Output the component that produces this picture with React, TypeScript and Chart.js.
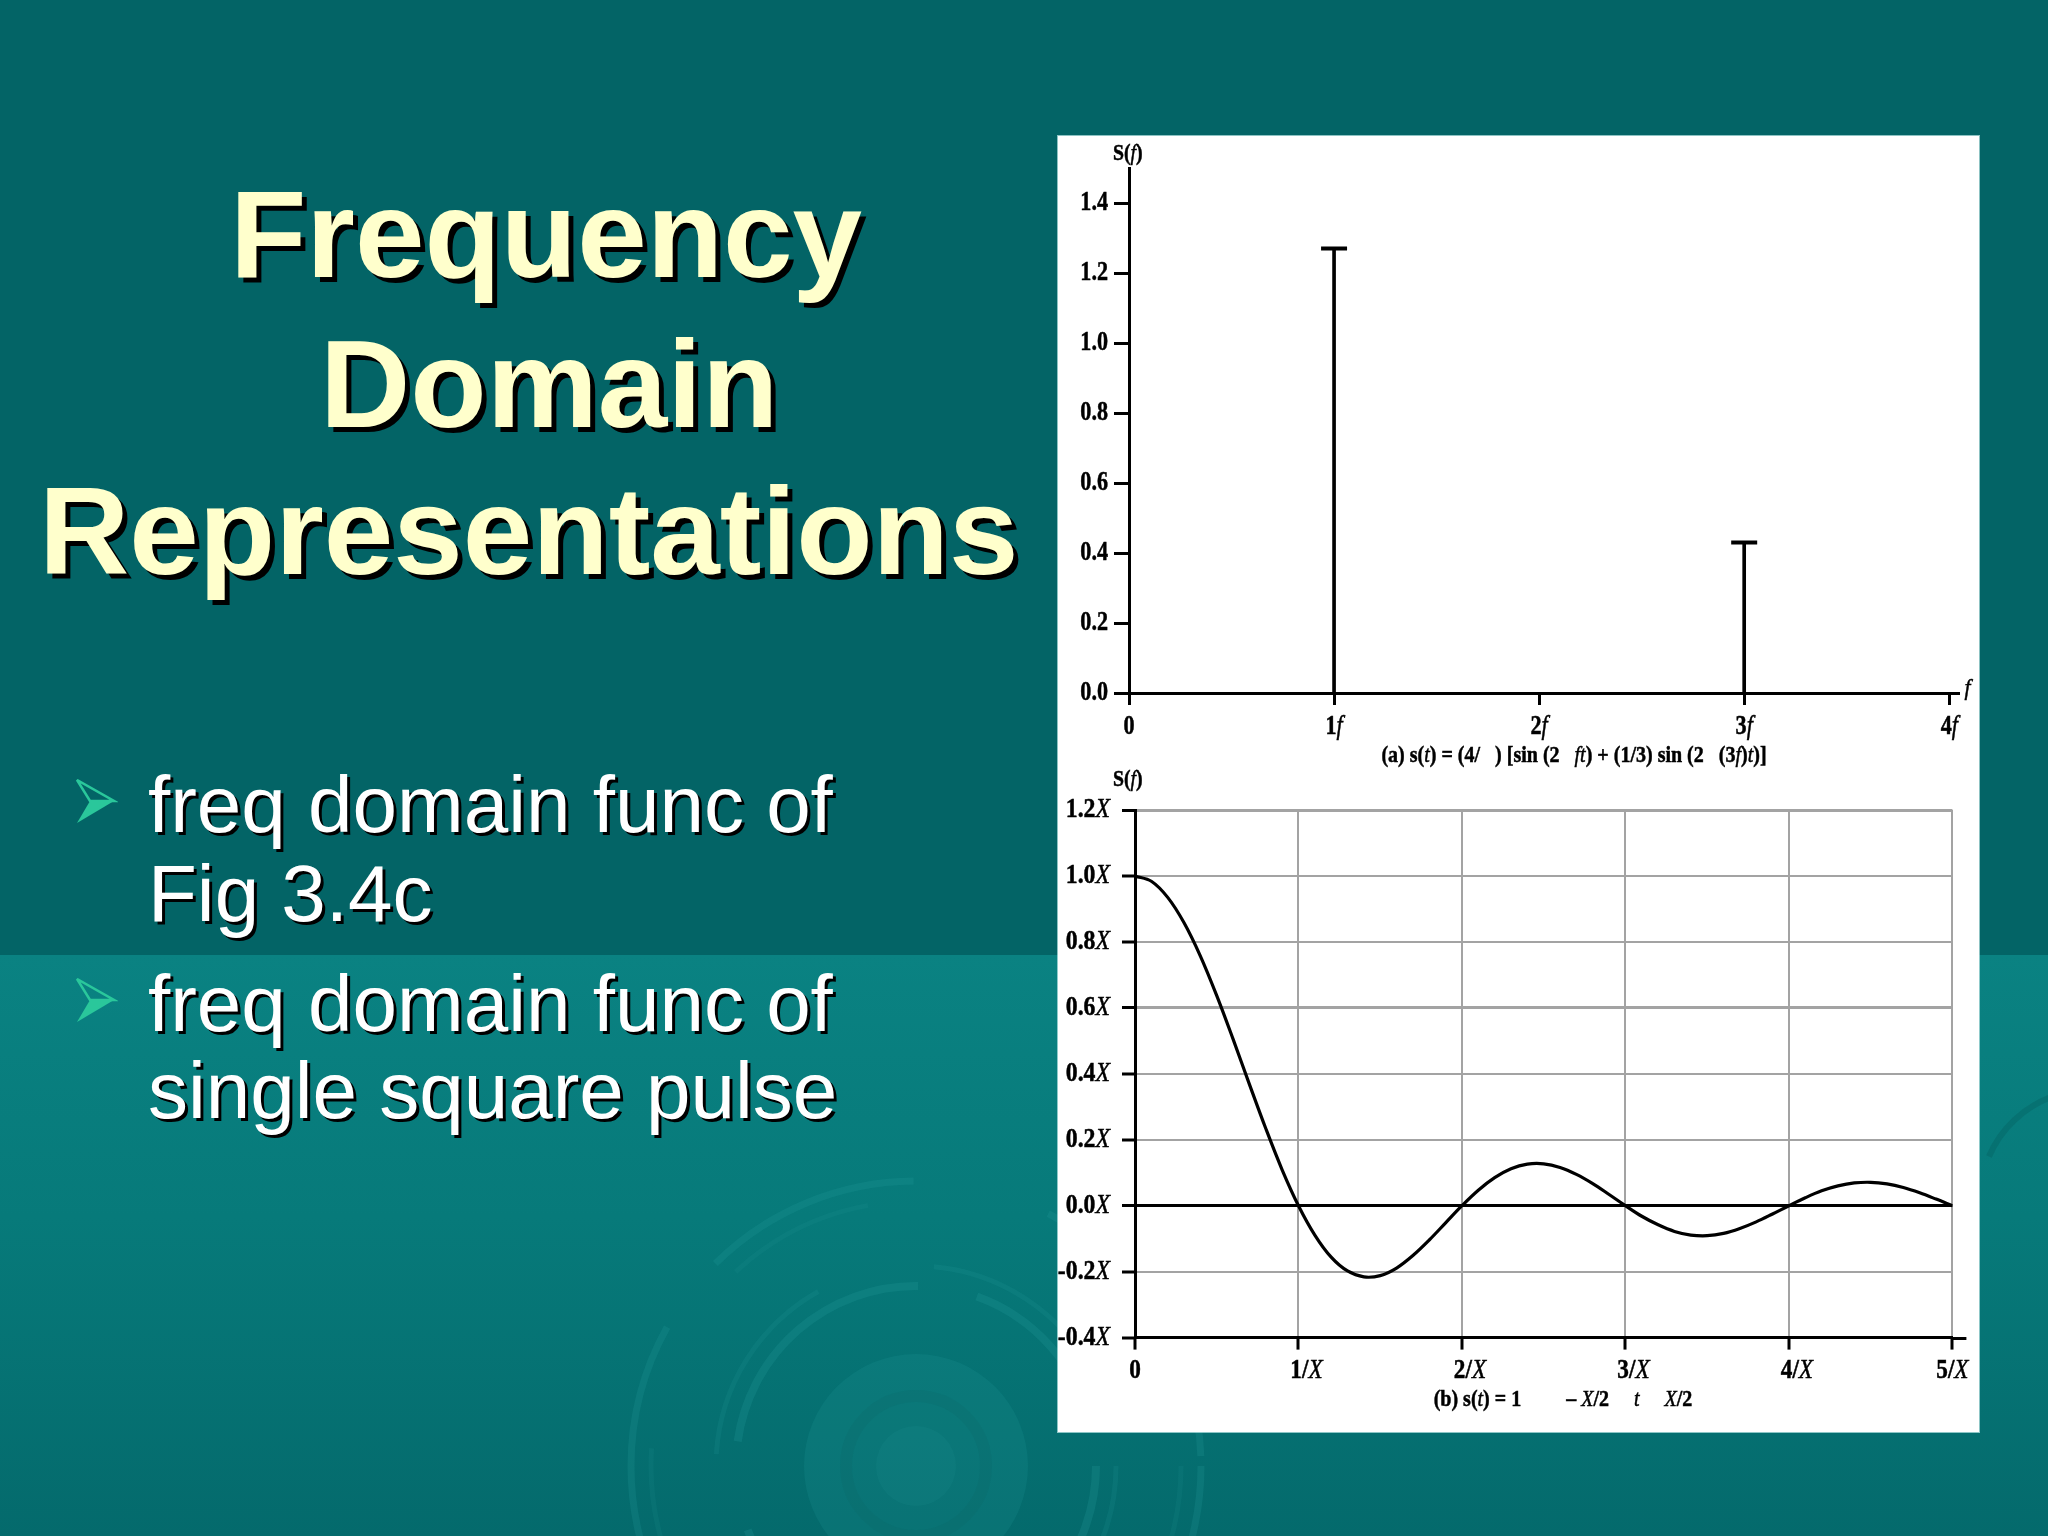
import React, { useEffect, useRef } from "react";
import { Chart, registerables } from "chart.js";
Chart.register(...registerables);

// ---------- Data: (a) line spectrum ----------
const spectrumFreqs = [1, 3];
const spectrumAmps = [1.27, 0.43];
const topXTicks = [0, 1, 2, 3, 4];
const topXTickLabels = ["0", "1{f}", "2{f}", "3{f}", "4{f}"];
const topYTicks = [0, 0.2, 0.4, 0.6, 0.8, 1.0, 1.2, 1.4];
const topYTickLabels = ["0.0", "0.2", "0.4", "0.6", "0.8", "1.0", "1.2", "1.4"];
const topCaption = "(a) s({t}) = (4/   ) [sin (2   {f}{t}) + (1/3) sin (2   (3{f}){t})]";

// ---------- Data: (b) single square pulse spectrum ----------
const pulseF = [
  0, 0.1, 0.2, 0.3, 0.4, 0.5, 0.6, 0.7, 0.8, 0.9,
  1.0, 1.1, 1.2, 1.3, 1.4, 1.5, 1.6, 1.7, 1.8, 1.9,
  2.0, 2.1, 2.2, 2.3, 2.4, 2.5, 2.6, 2.7, 2.8, 2.9,
  3.0, 3.1, 3.2, 3.3, 3.4, 3.5, 3.6, 3.7, 3.8, 3.9,
  4.0, 4.1, 4.2, 4.3, 4.4, 4.5, 4.6, 4.7, 4.8, 4.9, 5.0,
];
const pulseS = [
  1.0, 0.984, 0.935, 0.858, 0.757, 0.637, 0.505, 0.368, 0.234, 0.109,
  0.0, -0.089, -0.156, -0.198, -0.216, -0.212, -0.189, -0.151, -0.104, -0.052,
  0.0, 0.047, 0.085, 0.112, 0.126, 0.127, 0.116, 0.095, 0.067, 0.034,
  0.0, -0.032, -0.058, -0.078, -0.089, -0.091, -0.084, -0.069, -0.049, -0.025,
  0.0, 0.024, 0.045, 0.06, 0.069, 0.071, 0.066, 0.055, 0.039, 0.02, 0.0,
];
const bottomXTicks = [0, 1, 2, 3, 4, 5];
const bottomXTickLabels = ["0", "1/{X}", "2/{X}", "3/{X}", "4/{X}", "5/{X}"];
const bottomYTicks = [-0.4, -0.2, 0, 0.2, 0.4, 0.6, 0.8, 1.0, 1.2];
const bottomYTickLabels = ["-0.4{X}", "-0.2{X}", "0.0{X}", "0.2{X}", "0.4{X}", "0.6{X}", "0.8{X}", "1.0{X}", "1.2{X}"];
const bottomCaption = "(b) s({t}) = 1         \u2013 {X}/2     {t}     {X}/2";

// ---------- Slide text ----------
const titleLines = ["Frequency", "Domain", "Representations"];
const bulletLines = [
  ["freq domain func of", "Fig 3.4c"],
  ["freq domain func of", "single square pulse"],
];

type Seg = { t: string; i: boolean };
function parseRich(s: string): Seg[] {
  const out: Seg[] = [];
  const re = /\{([^}]*)\}/g;
  let last = 0;
  let m: RegExpExecArray | null;
  while ((m = re.exec(s))) {
    if (m.index > last) out.push({ t: s.slice(last, m.index), i: false });
    out.push({ t: m[1], i: true });
    last = re.lastIndex;
  }
  if (last < s.length) out.push({ t: s.slice(last), i: false });
  return out;
}

function drawRich(
  ctx: CanvasRenderingContext2D,
  s: string,
  x: number,
  y: number,
  align: "left" | "center" | "right",
  size: number,
  condense: number,
  bold = true
) {
  const segs = parseRich(s);
  const fontN = `${bold ? "bold " : ""}${size}px "Liberation Serif", "Times New Roman", serif`;
  const fontI = `italic ${size}px "Liberation Serif", "Times New Roman", serif`;
  let w = 0;
  const widths = segs.map((sg) => {
    ctx.font = sg.i ? fontI : fontN;
    const ww = ctx.measureText(sg.t).width;
    w += ww;
    return ww;
  });
  const total = w * condense;
  const sx = align === "left" ? x : align === "right" ? x - total : x - total / 2;
  ctx.save();
  ctx.translate(sx, y);
  ctx.scale(condense, 1);
  ctx.fillStyle = "#000";
  ctx.strokeStyle = "#000";
  ctx.lineWidth = 0.5;
  ctx.textBaseline = "middle";
  ctx.textAlign = "left";
  let cx = 0;
  segs.forEach((sg, k) => {
    ctx.font = sg.i ? fontI : fontN;
    ctx.fillText(sg.t, cx, 0);
    ctx.strokeText(sg.t, cx, 0);
    cx += widths[k];
  });
  ctx.restore();
}

function makeTopConfig(): any {
  const pts = spectrumFreqs.map((f, i) => ({ x: f, y: spectrumAmps[i] }));
  const textPlugin = {
    id: "topText",
    afterDraw(chart: any) {
      const ctx = chart.ctx as CanvasRenderingContext2D;
      const xs = chart.scales.x;
      const ys = chart.scales.y;
      const a = chart.chartArea;
      topYTicks.forEach((v, i) => {
        drawRich(ctx, topYTickLabels[i], a.left - 21, ys.getPixelForValue(v), "right", 27, 0.82);
      });
      topXTicks.forEach((v, i) => {
        drawRich(ctx, topXTickLabels[i], xs.getPixelForValue(v), a.bottom + 34, "center", 27, 0.82);
      });
      drawRich(ctx, topCaption, 516, 620, "center", 23, 0.87);
      drawRich(ctx, "S({f})", 55, 18, "left", 23, 0.86);
      drawRich(ctx, "{f}", a.right + 5, a.bottom - 4, "left", 24, 0.9);
    },
  };
  return {
    type: "bar",
    data: {
      datasets: [
        {
          type: "bar",
          data: pts,
          backgroundColor: "#000",
          borderWidth: 0,
          barThickness: 3,
        },
        {
          type: "scatter",
          data: pts,
          pointStyle: "line",
          pointRadius: 13,
          pointHoverRadius: 13,
          borderColor: "#000",
          backgroundColor: "#000",
          borderWidth: 4,
        },
      ],
    },
    options: {
      animation: false,
      responsive: false,
      events: [],
      layout: { padding: { top: 32, right: 19.5, left: 0, bottom: 0 } },
      plugins: { legend: { display: false }, tooltip: { enabled: false } },
      scales: {
        x: {
          type: "linear",
          offset: false,
          min: 0,
          max: 4.05,
          afterBuildTicks: (s: any) => {
            s.ticks = topXTicks.map((v) => ({ value: v }));
          },
          afterFit: (s: any) => {
            s.height = 83;
          },
          grid: {
            offset: false,
            drawOnChartArea: false,
            drawTicks: true,
            tickLength: 12,
            tickWidth: 3,
            tickColor: "#000",
          },
          border: { display: true, color: "#000", width: 3 },
          ticks: { display: false },
        },
        y: {
          type: "linear",
          min: 0,
          max: 1.5,
          afterBuildTicks: (s: any) => {
            s.ticks = topYTicks.map((v) => ({ value: v }));
          },
          afterFit: (s: any) => {
            s.width = 71;
          },
          grid: { drawOnChartArea: false, drawTicks: true, tickLength: 15, tickWidth: 3, tickColor: "#000" },
          border: { display: true, color: "#000", width: 3 },
          ticks: { display: false },
        },
      },
    },
    plugins: [textPlugin],
  };
}

function makeBottomConfig(): any {
  const pts = pulseF.map((f, i) => ({ x: f, y: pulseS[i] }));
  const textPlugin = {
    id: "bottomText",
    afterDraw(chart: any) {
      const ctx = chart.ctx as CanvasRenderingContext2D;
      const xs = chart.scales.x;
      const ys = chart.scales.y;
      const a = chart.chartArea;
      // extend the bottom axis line a little past the last tick, as in the figure
      ctx.save();
      ctx.strokeStyle = "#000";
      ctx.lineWidth = 3;
      ctx.beginPath();
      ctx.moveTo(a.right - 1, Math.round(a.bottom) + 0.5);
      ctx.lineTo(a.right + 14, Math.round(a.bottom) + 0.5);
      ctx.stroke();
      ctx.restore();
      bottomYTicks.forEach((v, i) => {
        drawRich(ctx, bottomYTickLabels[i], a.left - 25, ys.getPixelForValue(v), "right", 27, 0.88);
      });
      const last = bottomXTicks.length - 1;
      bottomXTicks.forEach((v, i) => {
        // labels of the inner ticks sit a little right of their tick in the figure
        const shift = i === 0 || i === last ? 0 : 8;
        drawRich(ctx, bottomXTickLabels[i], xs.getPixelForValue(v) + shift, a.bottom + 33, "center", 27, 0.86);
      });
      drawRich(ctx, bottomCaption, 505, 640, "center", 23, 0.87);
      drawRich(ctx, "S({f})", 55, 20, "left", 23, 0.86);
    },
  };
  return {
    type: "line",
    data: {
      datasets: [
        {
          data: pts,
          borderColor: "#000",
          borderWidth: 3.2,
          pointRadius: 0,
          tension: 0.35,
          fill: false,
        },
      ],
    },
    options: {
      animation: false,
      responsive: false,
      events: [],
      layout: { padding: { top: 50, right: 26.6, left: 0, bottom: 0 } },
      plugins: { legend: { display: false }, tooltip: { enabled: false } },
      scales: {
        x: {
          type: "linear",
          min: 0,
          max: 5,
          afterBuildTicks: (s: any) => {
            s.ticks = bottomXTicks.map((v) => ({ value: v }));
          },
          afterFit: (s: any) => {
            s.height = 94.4;
          },
          grid: {
            color: "#a3a3a3",
            lineWidth: 2,
            drawTicks: true,
            tickLength: 12,
            tickWidth: 3,
            tickColor: "#000",
          },
          border: { display: true, color: "#000", width: 3 },
          ticks: { display: false },
        },
        y: {
          type: "linear",
          min: -0.4,
          max: 1.2,
          afterBuildTicks: (s: any) => {
            s.ticks = bottomYTicks.map((v) => ({ value: v }));
          },
          afterFit: (s: any) => {
            s.width = 77;
          },
          grid: {
            color: (c: any) => (c.tick && c.tick.value === 0 ? "#000" : "#a3a3a3"),
            lineWidth: (c: any) => {
              const v = c.tick ? c.tick.value : null;
              if (v === 0) return 3;
              if (v === 0.6 || v === 1.2) return 3;
              return 2;
            },
            drawTicks: true,
            tickLength: 13,
            tickWidth: 3,
            tickColor: "#000",
          },
          border: { display: true, color: "#000", width: 3 },
          ticks: { display: false },
        },
      },
    },
    plugins: [textPlugin],
  };
}

const TITLE_SIZE = 125;
const titleStyle = (left: number, baseline: number): React.CSSProperties => ({
  position: "absolute",
  left,
  top: baseline - Math.round(0.8465 * TITLE_SIZE),
  fontSize: TITLE_SIZE,
  lineHeight: TITLE_SIZE + "px",
  fontWeight: 700,
  color: "#FFFFCC",
  whiteSpace: "nowrap",
  textShadow: "5px 5px 0 #000",
});

const bulletStyle = (left: number, baseline: number): React.CSSProperties => ({
  position: "absolute",
  left,
  top: baseline - Math.round(0.8465 * 80),
  fontSize: 80,
  lineHeight: "80px",
  color: "#FFFFFF",
  whiteSpace: "nowrap",
  textShadow: "3px 3px 0 #000",
});

function Arrow({ left, top }: { left: number; top: number }) {
  return (
    <svg style={{ position: "absolute", left, top }} width={42} height={46} viewBox="0 0 42 46">
      <polygon points="1,1 38,22 14,22" fill="none" stroke="#2AC79B" strokeWidth={2.5} strokeLinejoin="miter" />
      <polygon points="14,22 38,22 1,44" fill="#2AC79B" />
    </svg>
  );
}

export default function App() {
  const c1 = useRef<HTMLCanvasElement>(null);
  const c2 = useRef<HTMLCanvasElement>(null);

  useEffect(() => {
    document.body.style.margin = "0";
    const ch1 = new Chart(c1.current as HTMLCanvasElement, makeTopConfig());
    const ch2 = new Chart(c2.current as HTMLCanvasElement, makeBottomConfig());
    return () => {
      ch1.destroy();
      ch2.destroy();
    };
  }, []);

  const titleLefts = [230, 320, 39];
  const titleBaselines = [277, 427, 574];
  const bulletBaselines = [
    [833, 922],
    [1032, 1119],
  ];
  const arrowTops = [779, 978];

  return (
    <div
      style={{
        position: "fixed",
        left: 0,
        top: 0,
        width: 2048,
        height: 1536,
        overflow: "hidden",
        background: "#036466",
        fontFamily: '"Liberation Sans", Arial, sans-serif',
      }}
    >
      <div
        style={{
          position: "absolute",
          left: 0,
          top: 955,
          width: 2048,
          height: 581,
          background: "linear-gradient(180deg, #0a8282 0%, #077a7a 45%, #046a6c 100%)",
        }}
      />
      <svg style={{ position: "absolute", left: 0, top: 0 }} width={2048} height={1536}>
        <circle cx={916} cy={1466} r={112} fill="rgba(40,160,160,0.16)" />
        <circle cx={916} cy={1466} r={70} fill="none" stroke="rgba(10,100,100,0.18)" strokeWidth={12} />
        <circle cx={916} cy={1466} r={40} fill="rgba(40,160,160,0.12)" />
        <circle cx={916} cy={1466} r={180} fill="none" stroke="rgba(40,160,160,0.22)" strokeWidth={8} strokeDasharray="260 60 180 90" />
        <circle cx={916} cy={1466} r={200} fill="none" stroke="rgba(40,160,160,0.14)" strokeWidth={5} strokeDasharray="200 120" />
        <circle cx={916} cy={1466} r={285} fill="none" stroke="rgba(40,160,160,0.2)" strokeWidth={7} strokeDasharray="300 80 220 140" />
        <circle cx={916} cy={1466} r={265} fill="none" stroke="rgba(40,160,160,0.12)" strokeWidth={5} strokeDasharray="150 200" />
        <circle cx={2090} cy={1200} r={110} fill="none" stroke="rgba(0,70,70,0.2)" strokeWidth={6} strokeDasharray="90 300" />
      </svg>

      {titleLines.map((t, i) => (
        <div key={"t" + i} style={titleStyle(titleLefts[i], titleBaselines[i])}>
          {t}
        </div>
      ))}

      {bulletLines.map((lines, bi) => (
        <React.Fragment key={"b" + bi}>
          <Arrow left={76} top={arrowTops[bi]} />
          {lines.map((ln, li) => (
            <div key={"l" + li} style={bulletStyle(148, bulletBaselines[bi][li])}>
              {ln}
            </div>
          ))}
        </React.Fragment>
      ))}

      <div
        style={{
          position: "absolute",
          left: 1058,
          top: 136,
          width: 921,
          height: 1296,
          background: "#ffffff",
          boxShadow: "0 0 0 1px rgba(200,235,235,0.7)",
        }}
      />
      <canvas
        ref={c1}
        width={921}
        height={640}
        style={{ position: "absolute", left: 1058, top: 136, width: 921, height: 640 }}
      />
      <canvas
        ref={c2}
        width={921}
        height={672}
        style={{ position: "absolute", left: 1058, top: 760, width: 921, height: 672 }}
      />
    </div>
  );
}
